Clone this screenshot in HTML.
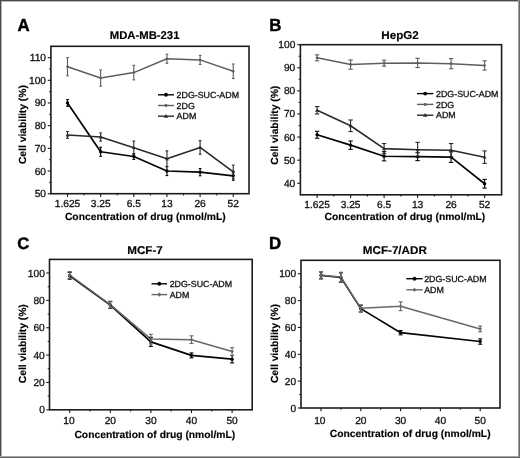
<!DOCTYPE html>
<html><head><meta charset="utf-8"><style>
html,body{margin:0;padding:0;background:#fff;}
body{width:520px;height:458px;overflow:hidden;position:relative;}
svg{position:absolute;left:0;top:0;filter:blur(0.3px);}
svg text{font-family:"Liberation Sans", sans-serif;text-rendering:geometricPrecision;}
svg text.r{stroke:#111;stroke-width:0.3px;}
svg text.b{stroke:#000;stroke-width:0.15px;}
svg text.L{stroke:#000;stroke-width:0.45px;}
</style></head><body>
<svg width="520" height="458" viewBox="0 0 520 458">
<rect x="0" y="0" width="520" height="458" fill="#fff"/>
<path d="M67.5 102.99 L100.65 151.75 L133.8 156.51 L166.95 171.02 L200.1 172.16 L233.25 175.79" fill="none" stroke="#050505" stroke-width="1.7" stroke-linejoin="round"/>
<path d="M67.5 66.71 L100.65 78.05 L133.8 72.61 L166.95 58.77 L200.1 59.91 L233.25 71.24" fill="none" stroke="#5e5e5e" stroke-width="1.5" stroke-linejoin="round"/>
<path d="M67.5 134.97 L100.65 137.01 L133.8 147.67 L166.95 158.78 L200.1 147.44 L233.25 171.93" fill="none" stroke="#2a2a2a" stroke-width="1.6" stroke-linejoin="round"/>
<line x1="67.5" y1="99.59" x2="67.5" y2="106.39" stroke="#050505" stroke-width="1.1" />
<line x1="66.15" y1="99.59" x2="68.85" y2="99.59" stroke="#050505" stroke-width="1.1" />
<line x1="66.15" y1="106.39" x2="68.85" y2="106.39" stroke="#050505" stroke-width="1.1" />
<circle cx="67.5" cy="102.99" r="1.7" fill="#050505"/>
<line x1="100.65" y1="147.21" x2="100.65" y2="156.28" stroke="#050505" stroke-width="1.1" />
<line x1="99.3" y1="147.21" x2="102" y2="147.21" stroke="#050505" stroke-width="1.1" />
<line x1="99.3" y1="156.28" x2="102" y2="156.28" stroke="#050505" stroke-width="1.1" />
<circle cx="100.65" cy="151.75" r="1.7" fill="#050505"/>
<line x1="133.8" y1="153.56" x2="133.8" y2="159.46" stroke="#050505" stroke-width="1.1" />
<line x1="132.45" y1="153.56" x2="135.15" y2="153.56" stroke="#050505" stroke-width="1.1" />
<line x1="132.45" y1="159.46" x2="135.15" y2="159.46" stroke="#050505" stroke-width="1.1" />
<circle cx="133.8" cy="156.51" r="1.7" fill="#050505"/>
<line x1="166.95" y1="166.49" x2="166.95" y2="175.56" stroke="#050505" stroke-width="1.1" />
<line x1="165.6" y1="166.49" x2="168.3" y2="166.49" stroke="#050505" stroke-width="1.1" />
<line x1="165.6" y1="175.56" x2="168.3" y2="175.56" stroke="#050505" stroke-width="1.1" />
<circle cx="166.95" cy="171.02" r="1.7" fill="#050505"/>
<line x1="200.1" y1="168.53" x2="200.1" y2="175.79" stroke="#050505" stroke-width="1.1" />
<line x1="198.75" y1="168.53" x2="201.45" y2="168.53" stroke="#050505" stroke-width="1.1" />
<line x1="198.75" y1="175.79" x2="201.45" y2="175.79" stroke="#050505" stroke-width="1.1" />
<circle cx="200.1" cy="172.16" r="1.7" fill="#050505"/>
<line x1="233.25" y1="171.25" x2="233.25" y2="180.32" stroke="#050505" stroke-width="1.1" />
<line x1="231.9" y1="171.25" x2="234.6" y2="171.25" stroke="#050505" stroke-width="1.1" />
<line x1="231.9" y1="180.32" x2="234.6" y2="180.32" stroke="#050505" stroke-width="1.1" />
<circle cx="233.25" cy="175.79" r="1.7" fill="#050505"/>
<line x1="67.5" y1="57.64" x2="67.5" y2="75.78" stroke="#5e5e5e" stroke-width="1.1" />
<line x1="66.15" y1="57.64" x2="68.85" y2="57.64" stroke="#5e5e5e" stroke-width="1.1" />
<line x1="66.15" y1="75.78" x2="68.85" y2="75.78" stroke="#5e5e5e" stroke-width="1.1" />
<circle cx="67.5" cy="66.71" r="1.3" fill="#5e5e5e"/>
<line x1="100.65" y1="69.88" x2="100.65" y2="86.21" stroke="#5e5e5e" stroke-width="1.1" />
<line x1="99.3" y1="69.88" x2="102" y2="69.88" stroke="#5e5e5e" stroke-width="1.1" />
<line x1="99.3" y1="86.21" x2="102" y2="86.21" stroke="#5e5e5e" stroke-width="1.1" />
<circle cx="100.65" cy="78.05" r="1.3" fill="#5e5e5e"/>
<line x1="133.8" y1="65.35" x2="133.8" y2="79.86" stroke="#5e5e5e" stroke-width="1.1" />
<line x1="132.45" y1="65.35" x2="135.15" y2="65.35" stroke="#5e5e5e" stroke-width="1.1" />
<line x1="132.45" y1="79.86" x2="135.15" y2="79.86" stroke="#5e5e5e" stroke-width="1.1" />
<circle cx="133.8" cy="72.61" r="1.3" fill="#5e5e5e"/>
<line x1="166.95" y1="54.24" x2="166.95" y2="63.31" stroke="#5e5e5e" stroke-width="1.1" />
<line x1="165.6" y1="54.24" x2="168.3" y2="54.24" stroke="#5e5e5e" stroke-width="1.1" />
<line x1="165.6" y1="63.31" x2="168.3" y2="63.31" stroke="#5e5e5e" stroke-width="1.1" />
<circle cx="166.95" cy="58.77" r="1.3" fill="#5e5e5e"/>
<line x1="200.1" y1="55.37" x2="200.1" y2="64.44" stroke="#5e5e5e" stroke-width="1.1" />
<line x1="198.75" y1="55.37" x2="201.45" y2="55.37" stroke="#5e5e5e" stroke-width="1.1" />
<line x1="198.75" y1="64.44" x2="201.45" y2="64.44" stroke="#5e5e5e" stroke-width="1.1" />
<circle cx="200.1" cy="59.91" r="1.3" fill="#5e5e5e"/>
<line x1="233.25" y1="63.99" x2="233.25" y2="78.5" stroke="#5e5e5e" stroke-width="1.1" />
<line x1="231.9" y1="63.99" x2="234.6" y2="63.99" stroke="#5e5e5e" stroke-width="1.1" />
<line x1="231.9" y1="78.5" x2="234.6" y2="78.5" stroke="#5e5e5e" stroke-width="1.1" />
<circle cx="233.25" cy="71.24" r="1.3" fill="#5e5e5e"/>
<line x1="67.5" y1="131.57" x2="67.5" y2="138.37" stroke="#2a2a2a" stroke-width="1.1" />
<line x1="66.15" y1="131.57" x2="68.85" y2="131.57" stroke="#2a2a2a" stroke-width="1.1" />
<line x1="66.15" y1="138.37" x2="68.85" y2="138.37" stroke="#2a2a2a" stroke-width="1.1" />
<path d="M67.5 133.07 L69.4 136.39 L65.6 136.39Z" fill="#2a2a2a"/>
<line x1="100.65" y1="132.93" x2="100.65" y2="141.09" stroke="#2a2a2a" stroke-width="1.1" />
<line x1="99.3" y1="132.93" x2="102" y2="132.93" stroke="#2a2a2a" stroke-width="1.1" />
<line x1="99.3" y1="141.09" x2="102" y2="141.09" stroke="#2a2a2a" stroke-width="1.1" />
<path d="M100.65 135.11 L102.55 138.43 L98.75 138.43Z" fill="#2a2a2a"/>
<line x1="133.8" y1="141.09" x2="133.8" y2="154.24" stroke="#2a2a2a" stroke-width="1.1" />
<line x1="132.45" y1="141.09" x2="135.15" y2="141.09" stroke="#2a2a2a" stroke-width="1.1" />
<line x1="132.45" y1="154.24" x2="135.15" y2="154.24" stroke="#2a2a2a" stroke-width="1.1" />
<path d="M133.8 145.77 L135.7 149.09 L131.9 149.09Z" fill="#2a2a2a"/>
<line x1="166.95" y1="150.84" x2="166.95" y2="166.71" stroke="#2a2a2a" stroke-width="1.1" />
<line x1="165.6" y1="150.84" x2="168.3" y2="150.84" stroke="#2a2a2a" stroke-width="1.1" />
<line x1="165.6" y1="166.71" x2="168.3" y2="166.71" stroke="#2a2a2a" stroke-width="1.1" />
<path d="M166.95 156.88 L168.85 160.2 L165.05 160.2Z" fill="#2a2a2a"/>
<line x1="200.1" y1="140.64" x2="200.1" y2="154.24" stroke="#2a2a2a" stroke-width="1.1" />
<line x1="198.75" y1="140.64" x2="201.45" y2="140.64" stroke="#2a2a2a" stroke-width="1.1" />
<line x1="198.75" y1="154.24" x2="201.45" y2="154.24" stroke="#2a2a2a" stroke-width="1.1" />
<path d="M200.1 145.54 L202 148.86 L198.2 148.86Z" fill="#2a2a2a"/>
<line x1="233.25" y1="165.13" x2="233.25" y2="178.73" stroke="#2a2a2a" stroke-width="1.1" />
<line x1="231.9" y1="165.13" x2="234.6" y2="165.13" stroke="#2a2a2a" stroke-width="1.1" />
<line x1="231.9" y1="178.73" x2="234.6" y2="178.73" stroke="#2a2a2a" stroke-width="1.1" />
<path d="M233.25 170.03 L235.15 173.36 L231.35 173.36Z" fill="#2a2a2a"/>
<rect x="50.9" y="46.3" width="198.1" height="147.4" fill="none" stroke="#1c1c1c" stroke-width="1.6"/>
<line x1="47.7" y1="193.7" x2="50.9" y2="193.7" stroke="#1c1c1c" stroke-width="1.1" />
<text x="46" y="197.2" font-size="10.2" font-weight="normal" text-anchor="end" fill="#111"  class="r">50</text>
<line x1="47.7" y1="171.02" x2="50.9" y2="171.02" stroke="#1c1c1c" stroke-width="1.1" />
<text x="46" y="174.52" font-size="10.2" font-weight="normal" text-anchor="end" fill="#111"  class="r">60</text>
<line x1="47.7" y1="148.35" x2="50.9" y2="148.35" stroke="#1c1c1c" stroke-width="1.1" />
<text x="46" y="151.85" font-size="10.2" font-weight="normal" text-anchor="end" fill="#111"  class="r">70</text>
<line x1="47.7" y1="125.67" x2="50.9" y2="125.67" stroke="#1c1c1c" stroke-width="1.1" />
<text x="46" y="129.17" font-size="10.2" font-weight="normal" text-anchor="end" fill="#111"  class="r">80</text>
<line x1="47.7" y1="102.99" x2="50.9" y2="102.99" stroke="#1c1c1c" stroke-width="1.1" />
<text x="46" y="106.49" font-size="10.2" font-weight="normal" text-anchor="end" fill="#111"  class="r">90</text>
<line x1="47.7" y1="80.32" x2="50.9" y2="80.32" stroke="#1c1c1c" stroke-width="1.1" />
<text x="46" y="83.82" font-size="10.2" font-weight="normal" text-anchor="end" fill="#111"  class="r">100</text>
<line x1="47.7" y1="57.64" x2="50.9" y2="57.64" stroke="#1c1c1c" stroke-width="1.1" />
<text x="46" y="61.14" font-size="10.2" font-weight="normal" text-anchor="end" fill="#111"  class="r">110</text>
<line x1="49.1" y1="182.36" x2="50.9" y2="182.36" stroke="#1c1c1c" stroke-width="1.0" />
<line x1="49.1" y1="159.68" x2="50.9" y2="159.68" stroke="#1c1c1c" stroke-width="1.0" />
<line x1="49.1" y1="137.01" x2="50.9" y2="137.01" stroke="#1c1c1c" stroke-width="1.0" />
<line x1="49.1" y1="114.33" x2="50.9" y2="114.33" stroke="#1c1c1c" stroke-width="1.0" />
<line x1="49.1" y1="91.65" x2="50.9" y2="91.65" stroke="#1c1c1c" stroke-width="1.0" />
<line x1="49.1" y1="68.98" x2="50.9" y2="68.98" stroke="#1c1c1c" stroke-width="1.0" />
<line x1="67.5" y1="193.7" x2="67.5" y2="196.9" stroke="#1c1c1c" stroke-width="1.1" />
<text x="67.5" y="207.3" font-size="10.2" font-weight="normal" text-anchor="middle" fill="#111"  class="r">1.625</text>
<line x1="100.65" y1="193.7" x2="100.65" y2="196.9" stroke="#1c1c1c" stroke-width="1.1" />
<text x="100.65" y="207.3" font-size="10.2" font-weight="normal" text-anchor="middle" fill="#111"  class="r">3.25</text>
<line x1="133.8" y1="193.7" x2="133.8" y2="196.9" stroke="#1c1c1c" stroke-width="1.1" />
<text x="133.8" y="207.3" font-size="10.2" font-weight="normal" text-anchor="middle" fill="#111"  class="r">6.5</text>
<line x1="166.95" y1="193.7" x2="166.95" y2="196.9" stroke="#1c1c1c" stroke-width="1.1" />
<text x="166.95" y="207.3" font-size="10.2" font-weight="normal" text-anchor="middle" fill="#111"  class="r">13</text>
<line x1="200.1" y1="193.7" x2="200.1" y2="196.9" stroke="#1c1c1c" stroke-width="1.1" />
<text x="200.1" y="207.3" font-size="10.2" font-weight="normal" text-anchor="middle" fill="#111"  class="r">26</text>
<line x1="233.25" y1="193.7" x2="233.25" y2="196.9" stroke="#1c1c1c" stroke-width="1.1" />
<text x="233.25" y="207.3" font-size="10.2" font-weight="normal" text-anchor="middle" fill="#111"  class="r">52</text>
<line x1="84.08" y1="193.7" x2="84.08" y2="195.5" stroke="#1c1c1c" stroke-width="1.0" />
<line x1="117.22" y1="193.7" x2="117.22" y2="195.5" stroke="#1c1c1c" stroke-width="1.0" />
<line x1="150.38" y1="193.7" x2="150.38" y2="195.5" stroke="#1c1c1c" stroke-width="1.0" />
<line x1="183.52" y1="193.7" x2="183.52" y2="195.5" stroke="#1c1c1c" stroke-width="1.0" />
<line x1="216.67" y1="193.7" x2="216.67" y2="195.5" stroke="#1c1c1c" stroke-width="1.0" />
<text x="144.6" y="39.4" font-size="11.3" font-weight="bold" text-anchor="middle" fill="#000"  class="b">MDA-MB-231</text>
<text transform="translate(17.5 31) scale(0.96 1)" font-size="17.5" font-weight="bold" text-anchor="start" fill="#000" class="L">A</text>
<text x="145.3" y="219.6" font-size="10.3" font-weight="bold" text-anchor="middle" fill="#000"  class="b">Concentration of drug (nmol/mL)</text>
<text x="26" y="124.6" font-size="10.3" font-weight="bold" text-anchor="middle" fill="#000" transform="rotate(-90 26 124.6)" class="b">Cell viability (%)</text>
<line x1="158" y1="94.8" x2="174" y2="94.8" stroke="#050505" stroke-width="1.4" />
<circle cx="166" cy="94.8" r="1.95" fill="#050505"/>
<text x="176.6" y="97.9" font-size="8.85" font-weight="normal" text-anchor="start" fill="#111"  class="r">2DG-SUC-ADM</text>
<line x1="158" y1="105.5" x2="174" y2="105.5" stroke="#5e5e5e" stroke-width="1.4" />
<circle cx="166" cy="105.5" r="1.49" fill="#5e5e5e"/>
<text x="176.6" y="108.6" font-size="8.85" font-weight="normal" text-anchor="start" fill="#111"  class="r">2DG</text>
<line x1="158" y1="116.2" x2="174" y2="116.2" stroke="#2a2a2a" stroke-width="1.4" />
<path d="M166 114.01 L168.19 117.84 L163.81 117.84Z" fill="#2a2a2a"/>
<text x="176.6" y="119.3" font-size="8.85" font-weight="normal" text-anchor="start" fill="#111"  class="r">ADM</text>
<path d="M317.1 134.76 L350.6 145.15 L384.1 156.24 L417.6 156.7 L451.1 157.16 L484.6 183.72" fill="none" stroke="#050505" stroke-width="1.7" stroke-linejoin="round"/>
<path d="M317.1 57.86 L350.6 64.56 L384.1 63.17 L417.6 62.94 L451.1 63.64 L484.6 65.48" fill="none" stroke="#5e5e5e" stroke-width="1.5" stroke-linejoin="round"/>
<path d="M317.1 110.28 L350.6 125.75 L384.1 148.62 L417.6 149.77 L451.1 150.23 L484.6 157.16" fill="none" stroke="#2a2a2a" stroke-width="1.6" stroke-linejoin="round"/>
<line x1="317.1" y1="131.3" x2="317.1" y2="138.22" stroke="#050505" stroke-width="1.1" />
<line x1="314.9" y1="131.3" x2="319.3" y2="131.3" stroke="#050505" stroke-width="1.1" />
<line x1="314.9" y1="138.22" x2="319.3" y2="138.22" stroke="#050505" stroke-width="1.1" />
<circle cx="317.1" cy="134.76" r="1.7" fill="#050505"/>
<line x1="350.6" y1="140.99" x2="350.6" y2="149.31" stroke="#050505" stroke-width="1.1" />
<line x1="348.4" y1="140.99" x2="352.8" y2="140.99" stroke="#050505" stroke-width="1.1" />
<line x1="348.4" y1="149.31" x2="352.8" y2="149.31" stroke="#050505" stroke-width="1.1" />
<circle cx="350.6" cy="145.15" r="1.7" fill="#050505"/>
<line x1="384.1" y1="151.62" x2="384.1" y2="160.85" stroke="#050505" stroke-width="1.1" />
<line x1="381.9" y1="151.62" x2="386.3" y2="151.62" stroke="#050505" stroke-width="1.1" />
<line x1="381.9" y1="160.85" x2="386.3" y2="160.85" stroke="#050505" stroke-width="1.1" />
<circle cx="384.1" cy="156.24" r="1.7" fill="#050505"/>
<line x1="417.6" y1="152.77" x2="417.6" y2="160.62" stroke="#050505" stroke-width="1.1" />
<line x1="415.4" y1="152.77" x2="419.8" y2="152.77" stroke="#050505" stroke-width="1.1" />
<line x1="415.4" y1="160.62" x2="419.8" y2="160.62" stroke="#050505" stroke-width="1.1" />
<circle cx="417.6" cy="156.7" r="1.7" fill="#050505"/>
<line x1="451.1" y1="151.85" x2="451.1" y2="162.47" stroke="#050505" stroke-width="1.1" />
<line x1="448.9" y1="151.85" x2="453.3" y2="151.85" stroke="#050505" stroke-width="1.1" />
<line x1="448.9" y1="162.47" x2="453.3" y2="162.47" stroke="#050505" stroke-width="1.1" />
<circle cx="451.1" cy="157.16" r="1.7" fill="#050505"/>
<line x1="484.6" y1="179.33" x2="484.6" y2="188.1" stroke="#050505" stroke-width="1.1" />
<line x1="482.4" y1="179.33" x2="486.8" y2="179.33" stroke="#050505" stroke-width="1.1" />
<line x1="482.4" y1="188.1" x2="486.8" y2="188.1" stroke="#050505" stroke-width="1.1" />
<circle cx="484.6" cy="183.72" r="1.7" fill="#050505"/>
<line x1="317.1" y1="54.86" x2="317.1" y2="60.86" stroke="#5e5e5e" stroke-width="1.1" />
<line x1="314.9" y1="54.86" x2="319.3" y2="54.86" stroke="#5e5e5e" stroke-width="1.1" />
<line x1="314.9" y1="60.86" x2="319.3" y2="60.86" stroke="#5e5e5e" stroke-width="1.1" />
<circle cx="317.1" cy="57.86" r="1.3" fill="#5e5e5e"/>
<line x1="350.6" y1="59.94" x2="350.6" y2="69.18" stroke="#5e5e5e" stroke-width="1.1" />
<line x1="348.4" y1="59.94" x2="352.8" y2="59.94" stroke="#5e5e5e" stroke-width="1.1" />
<line x1="348.4" y1="69.18" x2="352.8" y2="69.18" stroke="#5e5e5e" stroke-width="1.1" />
<circle cx="350.6" cy="64.56" r="1.3" fill="#5e5e5e"/>
<line x1="384.1" y1="60.17" x2="384.1" y2="66.18" stroke="#5e5e5e" stroke-width="1.1" />
<line x1="381.9" y1="60.17" x2="386.3" y2="60.17" stroke="#5e5e5e" stroke-width="1.1" />
<line x1="381.9" y1="66.18" x2="386.3" y2="66.18" stroke="#5e5e5e" stroke-width="1.1" />
<circle cx="384.1" cy="63.17" r="1.3" fill="#5e5e5e"/>
<line x1="417.6" y1="58.32" x2="417.6" y2="67.56" stroke="#5e5e5e" stroke-width="1.1" />
<line x1="415.4" y1="58.32" x2="419.8" y2="58.32" stroke="#5e5e5e" stroke-width="1.1" />
<line x1="415.4" y1="67.56" x2="419.8" y2="67.56" stroke="#5e5e5e" stroke-width="1.1" />
<circle cx="417.6" cy="62.94" r="1.3" fill="#5e5e5e"/>
<line x1="451.1" y1="58.56" x2="451.1" y2="68.72" stroke="#5e5e5e" stroke-width="1.1" />
<line x1="448.9" y1="58.56" x2="453.3" y2="58.56" stroke="#5e5e5e" stroke-width="1.1" />
<line x1="448.9" y1="68.72" x2="453.3" y2="68.72" stroke="#5e5e5e" stroke-width="1.1" />
<circle cx="451.1" cy="63.64" r="1.3" fill="#5e5e5e"/>
<line x1="484.6" y1="60.86" x2="484.6" y2="70.1" stroke="#5e5e5e" stroke-width="1.1" />
<line x1="482.4" y1="60.86" x2="486.8" y2="60.86" stroke="#5e5e5e" stroke-width="1.1" />
<line x1="482.4" y1="70.1" x2="486.8" y2="70.1" stroke="#5e5e5e" stroke-width="1.1" />
<circle cx="484.6" cy="65.48" r="1.3" fill="#5e5e5e"/>
<line x1="317.1" y1="106.59" x2="317.1" y2="113.98" stroke="#2a2a2a" stroke-width="1.1" />
<line x1="314.9" y1="106.59" x2="319.3" y2="106.59" stroke="#2a2a2a" stroke-width="1.1" />
<line x1="314.9" y1="113.98" x2="319.3" y2="113.98" stroke="#2a2a2a" stroke-width="1.1" />
<path d="M317.1 108.38 L319 111.71 L315.2 111.71Z" fill="#2a2a2a"/>
<line x1="350.6" y1="119.98" x2="350.6" y2="131.53" stroke="#2a2a2a" stroke-width="1.1" />
<line x1="348.4" y1="119.98" x2="352.8" y2="119.98" stroke="#2a2a2a" stroke-width="1.1" />
<line x1="348.4" y1="131.53" x2="352.8" y2="131.53" stroke="#2a2a2a" stroke-width="1.1" />
<path d="M350.6 123.85 L352.5 127.18 L348.7 127.18Z" fill="#2a2a2a"/>
<line x1="384.1" y1="143.54" x2="384.1" y2="153.7" stroke="#2a2a2a" stroke-width="1.1" />
<line x1="381.9" y1="143.54" x2="386.3" y2="143.54" stroke="#2a2a2a" stroke-width="1.1" />
<line x1="381.9" y1="153.7" x2="386.3" y2="153.7" stroke="#2a2a2a" stroke-width="1.1" />
<path d="M384.1 146.72 L386 150.04 L382.2 150.04Z" fill="#2a2a2a"/>
<line x1="417.6" y1="142.38" x2="417.6" y2="157.16" stroke="#2a2a2a" stroke-width="1.1" />
<line x1="415.4" y1="142.38" x2="419.8" y2="142.38" stroke="#2a2a2a" stroke-width="1.1" />
<line x1="415.4" y1="157.16" x2="419.8" y2="157.16" stroke="#2a2a2a" stroke-width="1.1" />
<path d="M417.6 147.87 L419.5 151.2 L415.7 151.2Z" fill="#2a2a2a"/>
<line x1="451.1" y1="143.54" x2="451.1" y2="156.93" stroke="#2a2a2a" stroke-width="1.1" />
<line x1="448.9" y1="143.54" x2="453.3" y2="143.54" stroke="#2a2a2a" stroke-width="1.1" />
<line x1="448.9" y1="156.93" x2="453.3" y2="156.93" stroke="#2a2a2a" stroke-width="1.1" />
<path d="M451.1 148.33 L453 151.66 L449.2 151.66Z" fill="#2a2a2a"/>
<line x1="484.6" y1="150.92" x2="484.6" y2="163.39" stroke="#2a2a2a" stroke-width="1.1" />
<line x1="482.4" y1="150.92" x2="486.8" y2="150.92" stroke="#2a2a2a" stroke-width="1.1" />
<line x1="482.4" y1="163.39" x2="486.8" y2="163.39" stroke="#2a2a2a" stroke-width="1.1" />
<path d="M484.6 155.26 L486.5 158.58 L482.7 158.58Z" fill="#2a2a2a"/>
<rect x="300.4" y="44.7" width="201.2" height="150.1" fill="none" stroke="#1c1c1c" stroke-width="1.6"/>
<line x1="297.2" y1="183.25" x2="300.4" y2="183.25" stroke="#1c1c1c" stroke-width="1.1" />
<text x="295.3" y="186.75" font-size="10.2" font-weight="normal" text-anchor="end" fill="#111"  class="r">40</text>
<line x1="297.2" y1="160.16" x2="300.4" y2="160.16" stroke="#1c1c1c" stroke-width="1.1" />
<text x="295.3" y="163.66" font-size="10.2" font-weight="normal" text-anchor="end" fill="#111"  class="r">50</text>
<line x1="297.2" y1="137.07" x2="300.4" y2="137.07" stroke="#1c1c1c" stroke-width="1.1" />
<text x="295.3" y="140.57" font-size="10.2" font-weight="normal" text-anchor="end" fill="#111"  class="r">60</text>
<line x1="297.2" y1="113.98" x2="300.4" y2="113.98" stroke="#1c1c1c" stroke-width="1.1" />
<text x="295.3" y="117.48" font-size="10.2" font-weight="normal" text-anchor="end" fill="#111"  class="r">70</text>
<line x1="297.2" y1="90.88" x2="300.4" y2="90.88" stroke="#1c1c1c" stroke-width="1.1" />
<text x="295.3" y="94.38" font-size="10.2" font-weight="normal" text-anchor="end" fill="#111"  class="r">80</text>
<line x1="297.2" y1="67.79" x2="300.4" y2="67.79" stroke="#1c1c1c" stroke-width="1.1" />
<text x="295.3" y="71.29" font-size="10.2" font-weight="normal" text-anchor="end" fill="#111"  class="r">90</text>
<line x1="297.2" y1="44.7" x2="300.4" y2="44.7" stroke="#1c1c1c" stroke-width="1.1" />
<text x="295.3" y="48.2" font-size="10.2" font-weight="normal" text-anchor="end" fill="#111"  class="r">100</text>
<line x1="298.6" y1="171.71" x2="300.4" y2="171.71" stroke="#1c1c1c" stroke-width="1.0" />
<line x1="298.6" y1="148.62" x2="300.4" y2="148.62" stroke="#1c1c1c" stroke-width="1.0" />
<line x1="298.6" y1="125.52" x2="300.4" y2="125.52" stroke="#1c1c1c" stroke-width="1.0" />
<line x1="298.6" y1="102.43" x2="300.4" y2="102.43" stroke="#1c1c1c" stroke-width="1.0" />
<line x1="298.6" y1="79.34" x2="300.4" y2="79.34" stroke="#1c1c1c" stroke-width="1.0" />
<line x1="298.6" y1="56.25" x2="300.4" y2="56.25" stroke="#1c1c1c" stroke-width="1.0" />
<line x1="317.1" y1="194.8" x2="317.1" y2="198" stroke="#1c1c1c" stroke-width="1.1" />
<text x="317.1" y="207.8" font-size="10.2" font-weight="normal" text-anchor="middle" fill="#111"  class="r">1.625</text>
<line x1="350.6" y1="194.8" x2="350.6" y2="198" stroke="#1c1c1c" stroke-width="1.1" />
<text x="350.6" y="207.8" font-size="10.2" font-weight="normal" text-anchor="middle" fill="#111"  class="r">3.25</text>
<line x1="384.1" y1="194.8" x2="384.1" y2="198" stroke="#1c1c1c" stroke-width="1.1" />
<text x="384.1" y="207.8" font-size="10.2" font-weight="normal" text-anchor="middle" fill="#111"  class="r">6.5</text>
<line x1="417.6" y1="194.8" x2="417.6" y2="198" stroke="#1c1c1c" stroke-width="1.1" />
<text x="417.6" y="207.8" font-size="10.2" font-weight="normal" text-anchor="middle" fill="#111"  class="r">13</text>
<line x1="451.1" y1="194.8" x2="451.1" y2="198" stroke="#1c1c1c" stroke-width="1.1" />
<text x="451.1" y="207.8" font-size="10.2" font-weight="normal" text-anchor="middle" fill="#111"  class="r">26</text>
<line x1="484.6" y1="194.8" x2="484.6" y2="198" stroke="#1c1c1c" stroke-width="1.1" />
<text x="484.6" y="207.8" font-size="10.2" font-weight="normal" text-anchor="middle" fill="#111"  class="r">52</text>
<line x1="333.85" y1="194.8" x2="333.85" y2="196.6" stroke="#1c1c1c" stroke-width="1.0" />
<line x1="367.35" y1="194.8" x2="367.35" y2="196.6" stroke="#1c1c1c" stroke-width="1.0" />
<line x1="400.85" y1="194.8" x2="400.85" y2="196.6" stroke="#1c1c1c" stroke-width="1.0" />
<line x1="434.35" y1="194.8" x2="434.35" y2="196.6" stroke="#1c1c1c" stroke-width="1.0" />
<line x1="467.85" y1="194.8" x2="467.85" y2="196.6" stroke="#1c1c1c" stroke-width="1.0" />
<text transform="translate(400 39.4) scale(1.03 1)" font-size="11.3" font-weight="bold" text-anchor="middle" fill="#000"  class="b">HepG2</text>
<text transform="translate(269.2 30.9) scale(0.96 1)" font-size="17.5" font-weight="bold" text-anchor="start" fill="#000" class="L">B</text>
<text x="404.9" y="219.6" font-size="10.3" font-weight="bold" text-anchor="middle" fill="#000"  class="b">Concentration of drug (nmol/mL)</text>
<text x="278.4" y="125.2" font-size="10.3" font-weight="bold" text-anchor="middle" fill="#000" transform="rotate(-90 278.4 125.2)" class="b">Cell viability (%)</text>
<line x1="417" y1="93.6" x2="433.4" y2="93.6" stroke="#050505" stroke-width="1.4" />
<circle cx="425.2" cy="93.6" r="1.95" fill="#050505"/>
<text x="436" y="96.7" font-size="8.85" font-weight="normal" text-anchor="start" fill="#111"  class="r">2DG-SUC-ADM</text>
<line x1="417" y1="104.4" x2="433.4" y2="104.4" stroke="#5e5e5e" stroke-width="1.4" />
<circle cx="425.2" cy="104.4" r="1.49" fill="#5e5e5e"/>
<text x="436" y="107.5" font-size="8.85" font-weight="normal" text-anchor="start" fill="#111"  class="r">2DG</text>
<line x1="417" y1="115.2" x2="433.4" y2="115.2" stroke="#2a2a2a" stroke-width="1.4" />
<path d="M425.2 113.01 L427.38 116.84 L423.01 116.84Z" fill="#2a2a2a"/>
<text x="436" y="118.3" font-size="8.85" font-weight="normal" text-anchor="start" fill="#111"  class="r">ADM</text>
<path d="M69.7 275.81 L110.3 305.07 L150.9 341.85 L191.5 355.38 L232.1 359.21" fill="none" stroke="#050505" stroke-width="1.7" stroke-linejoin="round"/>
<path d="M69.7 274.99 L110.3 304.66 L150.9 339.11 L191.5 339.66 L232.1 351.55" fill="none" stroke="#686868" stroke-width="1.5" stroke-linejoin="round"/>
<line x1="69.7" y1="272.39" x2="69.7" y2="279.23" stroke="#050505" stroke-width="1.1" />
<line x1="67.7" y1="272.39" x2="71.7" y2="272.39" stroke="#050505" stroke-width="1.1" />
<line x1="67.7" y1="279.23" x2="71.7" y2="279.23" stroke="#050505" stroke-width="1.1" />
<circle cx="69.7" cy="275.81" r="1.7" fill="#050505"/>
<line x1="110.3" y1="301.65" x2="110.3" y2="308.49" stroke="#050505" stroke-width="1.1" />
<line x1="108.3" y1="301.65" x2="112.3" y2="301.65" stroke="#050505" stroke-width="1.1" />
<line x1="108.3" y1="308.49" x2="112.3" y2="308.49" stroke="#050505" stroke-width="1.1" />
<circle cx="110.3" cy="305.07" r="1.7" fill="#050505"/>
<line x1="150.9" y1="337.33" x2="150.9" y2="346.36" stroke="#050505" stroke-width="1.1" />
<line x1="148.9" y1="337.33" x2="152.9" y2="337.33" stroke="#050505" stroke-width="1.1" />
<line x1="148.9" y1="346.36" x2="152.9" y2="346.36" stroke="#050505" stroke-width="1.1" />
<circle cx="150.9" cy="341.85" r="1.7" fill="#050505"/>
<line x1="191.5" y1="352.92" x2="191.5" y2="357.84" stroke="#050505" stroke-width="1.1" />
<line x1="189.5" y1="352.92" x2="193.5" y2="352.92" stroke="#050505" stroke-width="1.1" />
<line x1="189.5" y1="357.84" x2="193.5" y2="357.84" stroke="#050505" stroke-width="1.1" />
<circle cx="191.5" cy="355.38" r="1.7" fill="#050505"/>
<line x1="232.1" y1="355.52" x2="232.1" y2="362.9" stroke="#050505" stroke-width="1.1" />
<line x1="230.1" y1="355.52" x2="234.1" y2="355.52" stroke="#050505" stroke-width="1.1" />
<line x1="230.1" y1="362.9" x2="234.1" y2="362.9" stroke="#050505" stroke-width="1.1" />
<circle cx="232.1" cy="359.21" r="1.7" fill="#050505"/>
<line x1="69.7" y1="271.57" x2="69.7" y2="278.41" stroke="#686868" stroke-width="1.1" />
<line x1="67.7" y1="271.57" x2="71.7" y2="271.57" stroke="#686868" stroke-width="1.1" />
<line x1="67.7" y1="278.41" x2="71.7" y2="278.41" stroke="#686868" stroke-width="1.1" />
<path d="M69.7 273.19 L71.5 274.99 L69.7 276.79 L67.9 274.99Z" fill="#686868"/>
<line x1="110.3" y1="301.24" x2="110.3" y2="308.07" stroke="#686868" stroke-width="1.1" />
<line x1="108.3" y1="301.24" x2="112.3" y2="301.24" stroke="#686868" stroke-width="1.1" />
<line x1="108.3" y1="308.07" x2="112.3" y2="308.07" stroke="#686868" stroke-width="1.1" />
<path d="M110.3 302.86 L112.1 304.66 L110.3 306.46 L108.5 304.66Z" fill="#686868"/>
<line x1="150.9" y1="334.33" x2="150.9" y2="343.9" stroke="#686868" stroke-width="1.1" />
<line x1="148.9" y1="334.33" x2="152.9" y2="334.33" stroke="#686868" stroke-width="1.1" />
<line x1="148.9" y1="343.9" x2="152.9" y2="343.9" stroke="#686868" stroke-width="1.1" />
<path d="M150.9 337.31 L152.7 339.11 L150.9 340.91 L149.1 339.11Z" fill="#686868"/>
<line x1="191.5" y1="335.83" x2="191.5" y2="343.49" stroke="#686868" stroke-width="1.1" />
<line x1="189.5" y1="335.83" x2="193.5" y2="335.83" stroke="#686868" stroke-width="1.1" />
<line x1="189.5" y1="343.49" x2="193.5" y2="343.49" stroke="#686868" stroke-width="1.1" />
<path d="M191.5 337.86 L193.3 339.66 L191.5 341.46 L189.7 339.66Z" fill="#686868"/>
<line x1="232.1" y1="347.73" x2="232.1" y2="355.38" stroke="#686868" stroke-width="1.1" />
<line x1="230.1" y1="347.73" x2="234.1" y2="347.73" stroke="#686868" stroke-width="1.1" />
<line x1="230.1" y1="355.38" x2="234.1" y2="355.38" stroke="#686868" stroke-width="1.1" />
<path d="M232.1 349.75 L233.9 351.55 L232.1 353.35 L230.3 351.55Z" fill="#686868"/>
<rect x="49.5" y="259.4" width="202.7" height="150.4" fill="none" stroke="#1c1c1c" stroke-width="1.6"/>
<line x1="46.3" y1="409.8" x2="49.5" y2="409.8" stroke="#1c1c1c" stroke-width="1.1" />
<text x="44.8" y="413.3" font-size="10.2" font-weight="normal" text-anchor="end" fill="#111"  class="r">0</text>
<line x1="46.3" y1="382.45" x2="49.5" y2="382.45" stroke="#1c1c1c" stroke-width="1.1" />
<text x="44.8" y="385.95" font-size="10.2" font-weight="normal" text-anchor="end" fill="#111"  class="r">20</text>
<line x1="46.3" y1="355.11" x2="49.5" y2="355.11" stroke="#1c1c1c" stroke-width="1.1" />
<text x="44.8" y="358.61" font-size="10.2" font-weight="normal" text-anchor="end" fill="#111"  class="r">40</text>
<line x1="46.3" y1="327.76" x2="49.5" y2="327.76" stroke="#1c1c1c" stroke-width="1.1" />
<text x="44.8" y="331.26" font-size="10.2" font-weight="normal" text-anchor="end" fill="#111"  class="r">60</text>
<line x1="46.3" y1="300.42" x2="49.5" y2="300.42" stroke="#1c1c1c" stroke-width="1.1" />
<text x="44.8" y="303.92" font-size="10.2" font-weight="normal" text-anchor="end" fill="#111"  class="r">80</text>
<line x1="46.3" y1="273.07" x2="49.5" y2="273.07" stroke="#1c1c1c" stroke-width="1.1" />
<text x="44.8" y="276.57" font-size="10.2" font-weight="normal" text-anchor="end" fill="#111"  class="r">100</text>
<line x1="47.7" y1="396.13" x2="49.5" y2="396.13" stroke="#1c1c1c" stroke-width="1.0" />
<line x1="47.7" y1="368.78" x2="49.5" y2="368.78" stroke="#1c1c1c" stroke-width="1.0" />
<line x1="47.7" y1="341.44" x2="49.5" y2="341.44" stroke="#1c1c1c" stroke-width="1.0" />
<line x1="47.7" y1="314.09" x2="49.5" y2="314.09" stroke="#1c1c1c" stroke-width="1.0" />
<line x1="47.7" y1="286.75" x2="49.5" y2="286.75" stroke="#1c1c1c" stroke-width="1.0" />
<line x1="69.7" y1="409.8" x2="69.7" y2="413" stroke="#1c1c1c" stroke-width="1.1" />
<text x="68.9" y="424" font-size="10.2" font-weight="normal" text-anchor="middle" fill="#111"  class="r">10</text>
<line x1="110.3" y1="409.8" x2="110.3" y2="413" stroke="#1c1c1c" stroke-width="1.1" />
<text x="110.3" y="424" font-size="10.2" font-weight="normal" text-anchor="middle" fill="#111"  class="r">20</text>
<line x1="150.9" y1="409.8" x2="150.9" y2="413" stroke="#1c1c1c" stroke-width="1.1" />
<text x="150.9" y="424" font-size="10.2" font-weight="normal" text-anchor="middle" fill="#111"  class="r">30</text>
<line x1="191.5" y1="409.8" x2="191.5" y2="413" stroke="#1c1c1c" stroke-width="1.1" />
<text x="191.5" y="424" font-size="10.2" font-weight="normal" text-anchor="middle" fill="#111"  class="r">40</text>
<line x1="232.1" y1="409.8" x2="232.1" y2="413" stroke="#1c1c1c" stroke-width="1.1" />
<text x="232.1" y="424" font-size="10.2" font-weight="normal" text-anchor="middle" fill="#111"  class="r">50</text>
<line x1="90" y1="409.8" x2="90" y2="411.6" stroke="#1c1c1c" stroke-width="1.0" />
<line x1="130.6" y1="409.8" x2="130.6" y2="411.6" stroke="#1c1c1c" stroke-width="1.0" />
<line x1="171.2" y1="409.8" x2="171.2" y2="411.6" stroke="#1c1c1c" stroke-width="1.0" />
<line x1="211.8" y1="409.8" x2="211.8" y2="411.6" stroke="#1c1c1c" stroke-width="1.0" />
<text transform="translate(145 253.5) scale(1.03 1)" font-size="11.3" font-weight="bold" text-anchor="middle" fill="#000"  class="b">MCF-7</text>
<text x="17.2" y="248.8" font-size="16.6" font-weight="bold" text-anchor="start" fill="#000" class="L">C</text>
<text x="154.8" y="437.5" font-size="10.3" font-weight="bold" text-anchor="middle" fill="#000"  class="b">Concentration of drug (nmol/mL)</text>
<text x="25.7" y="343.7" font-size="10.3" font-weight="bold" text-anchor="middle" fill="#000" transform="rotate(-90 25.7 343.7)" class="b">Cell viability (%)</text>
<line x1="151.5" y1="283.8" x2="167.1" y2="283.8" stroke="#050505" stroke-width="1.4" />
<circle cx="159.3" cy="283.8" r="1.95" fill="#050505"/>
<text x="169.7" y="286.9" font-size="8.85" font-weight="normal" text-anchor="start" fill="#111"  class="r">2DG-SUC-ADM</text>
<line x1="151.5" y1="294.6" x2="167.1" y2="294.6" stroke="#686868" stroke-width="1.4" />
<path d="M159.3 292.53 L161.37 294.6 L159.3 296.67 L157.23 294.6Z" fill="#686868"/>
<text x="169.7" y="297.7" font-size="8.85" font-weight="normal" text-anchor="start" fill="#111"  class="r">ADM</text>
<path d="M321 275.34 L340.9 277.49 L360.8 308.64 L400.6 332.67 L480.2 341.53" fill="none" stroke="#050505" stroke-width="1.7" stroke-linejoin="round"/>
<path d="M321 275.34 L340.9 277.08 L360.8 308.37 L400.6 306.22 L480.2 328.91" fill="none" stroke="#686868" stroke-width="1.5" stroke-linejoin="round"/>
<line x1="321" y1="271.98" x2="321" y2="278.7" stroke="#050505" stroke-width="1.1" />
<line x1="319" y1="271.98" x2="323" y2="271.98" stroke="#050505" stroke-width="1.1" />
<line x1="319" y1="278.7" x2="323" y2="278.7" stroke="#050505" stroke-width="1.1" />
<circle cx="321" cy="275.34" r="1.7" fill="#050505"/>
<line x1="340.9" y1="272.79" x2="340.9" y2="282.19" stroke="#050505" stroke-width="1.1" />
<line x1="338.9" y1="272.79" x2="342.9" y2="272.79" stroke="#050505" stroke-width="1.1" />
<line x1="338.9" y1="282.19" x2="342.9" y2="282.19" stroke="#050505" stroke-width="1.1" />
<circle cx="340.9" cy="277.49" r="1.7" fill="#050505"/>
<line x1="360.8" y1="305.28" x2="360.8" y2="312" stroke="#050505" stroke-width="1.1" />
<line x1="358.8" y1="305.28" x2="362.8" y2="305.28" stroke="#050505" stroke-width="1.1" />
<line x1="358.8" y1="312" x2="362.8" y2="312" stroke="#050505" stroke-width="1.1" />
<circle cx="360.8" cy="308.64" r="1.7" fill="#050505"/>
<line x1="400.6" y1="330.52" x2="400.6" y2="334.82" stroke="#050505" stroke-width="1.1" />
<line x1="398.6" y1="330.52" x2="402.6" y2="330.52" stroke="#050505" stroke-width="1.1" />
<line x1="398.6" y1="334.82" x2="402.6" y2="334.82" stroke="#050505" stroke-width="1.1" />
<circle cx="400.6" cy="332.67" r="1.7" fill="#050505"/>
<line x1="480.2" y1="338.85" x2="480.2" y2="344.22" stroke="#050505" stroke-width="1.1" />
<line x1="478.2" y1="338.85" x2="482.2" y2="338.85" stroke="#050505" stroke-width="1.1" />
<line x1="478.2" y1="344.22" x2="482.2" y2="344.22" stroke="#050505" stroke-width="1.1" />
<circle cx="480.2" cy="341.53" r="1.7" fill="#050505"/>
<line x1="321" y1="271.58" x2="321" y2="279.1" stroke="#686868" stroke-width="1.1" />
<line x1="319" y1="271.58" x2="323" y2="271.58" stroke="#686868" stroke-width="1.1" />
<line x1="319" y1="279.1" x2="323" y2="279.1" stroke="#686868" stroke-width="1.1" />
<path d="M321 273.54 L322.8 275.34 L321 277.14 L319.2 275.34Z" fill="#686868"/>
<line x1="340.9" y1="272.25" x2="340.9" y2="281.92" stroke="#686868" stroke-width="1.1" />
<line x1="338.9" y1="272.25" x2="342.9" y2="272.25" stroke="#686868" stroke-width="1.1" />
<line x1="338.9" y1="281.92" x2="342.9" y2="281.92" stroke="#686868" stroke-width="1.1" />
<path d="M340.9 275.28 L342.7 277.08 L340.9 278.88 L339.1 277.08Z" fill="#686868"/>
<line x1="360.8" y1="304.88" x2="360.8" y2="311.86" stroke="#686868" stroke-width="1.1" />
<line x1="358.8" y1="304.88" x2="362.8" y2="304.88" stroke="#686868" stroke-width="1.1" />
<line x1="358.8" y1="311.86" x2="362.8" y2="311.86" stroke="#686868" stroke-width="1.1" />
<path d="M360.8 306.57 L362.6 308.37 L360.8 310.17 L359 308.37Z" fill="#686868"/>
<line x1="400.6" y1="301.79" x2="400.6" y2="310.65" stroke="#686868" stroke-width="1.1" />
<line x1="398.6" y1="301.79" x2="402.6" y2="301.79" stroke="#686868" stroke-width="1.1" />
<line x1="398.6" y1="310.65" x2="402.6" y2="310.65" stroke="#686868" stroke-width="1.1" />
<path d="M400.6 304.42 L402.4 306.22 L400.6 308.02 L398.8 306.22Z" fill="#686868"/>
<line x1="480.2" y1="326.09" x2="480.2" y2="331.73" stroke="#686868" stroke-width="1.1" />
<line x1="478.2" y1="326.09" x2="482.2" y2="326.09" stroke="#686868" stroke-width="1.1" />
<line x1="478.2" y1="331.73" x2="482.2" y2="331.73" stroke="#686868" stroke-width="1.1" />
<path d="M480.2 327.11 L482 328.91 L480.2 330.71 L478.4 328.91Z" fill="#686868"/>
<rect x="301" y="260.3" width="199" height="147.7" fill="none" stroke="#1c1c1c" stroke-width="1.6"/>
<line x1="297.8" y1="408" x2="301" y2="408" stroke="#1c1c1c" stroke-width="1.1" />
<text x="296.2" y="411.5" font-size="10.2" font-weight="normal" text-anchor="end" fill="#111"  class="r">0</text>
<line x1="297.8" y1="381.15" x2="301" y2="381.15" stroke="#1c1c1c" stroke-width="1.1" />
<text x="296.2" y="384.65" font-size="10.2" font-weight="normal" text-anchor="end" fill="#111"  class="r">20</text>
<line x1="297.8" y1="354.29" x2="301" y2="354.29" stroke="#1c1c1c" stroke-width="1.1" />
<text x="296.2" y="357.79" font-size="10.2" font-weight="normal" text-anchor="end" fill="#111"  class="r">40</text>
<line x1="297.8" y1="327.44" x2="301" y2="327.44" stroke="#1c1c1c" stroke-width="1.1" />
<text x="296.2" y="330.94" font-size="10.2" font-weight="normal" text-anchor="end" fill="#111"  class="r">60</text>
<line x1="297.8" y1="300.58" x2="301" y2="300.58" stroke="#1c1c1c" stroke-width="1.1" />
<text x="296.2" y="304.08" font-size="10.2" font-weight="normal" text-anchor="end" fill="#111"  class="r">80</text>
<line x1="297.8" y1="273.73" x2="301" y2="273.73" stroke="#1c1c1c" stroke-width="1.1" />
<text x="296.2" y="277.23" font-size="10.2" font-weight="normal" text-anchor="end" fill="#111"  class="r">100</text>
<line x1="299.2" y1="394.57" x2="301" y2="394.57" stroke="#1c1c1c" stroke-width="1.0" />
<line x1="299.2" y1="367.72" x2="301" y2="367.72" stroke="#1c1c1c" stroke-width="1.0" />
<line x1="299.2" y1="340.86" x2="301" y2="340.86" stroke="#1c1c1c" stroke-width="1.0" />
<line x1="299.2" y1="314.01" x2="301" y2="314.01" stroke="#1c1c1c" stroke-width="1.0" />
<line x1="299.2" y1="287.15" x2="301" y2="287.15" stroke="#1c1c1c" stroke-width="1.0" />
<line x1="321" y1="408" x2="321" y2="411.2" stroke="#1c1c1c" stroke-width="1.1" />
<text x="319.8" y="423.8" font-size="10.2" font-weight="normal" text-anchor="middle" fill="#111"  class="r">10</text>
<line x1="360.8" y1="408" x2="360.8" y2="411.2" stroke="#1c1c1c" stroke-width="1.1" />
<text x="360.8" y="423.8" font-size="10.2" font-weight="normal" text-anchor="middle" fill="#111"  class="r">20</text>
<line x1="400.6" y1="408" x2="400.6" y2="411.2" stroke="#1c1c1c" stroke-width="1.1" />
<text x="400.6" y="423.8" font-size="10.2" font-weight="normal" text-anchor="middle" fill="#111"  class="r">30</text>
<line x1="440.4" y1="408" x2="440.4" y2="411.2" stroke="#1c1c1c" stroke-width="1.1" />
<text x="440.4" y="423.8" font-size="10.2" font-weight="normal" text-anchor="middle" fill="#111"  class="r">40</text>
<line x1="480.2" y1="408" x2="480.2" y2="411.2" stroke="#1c1c1c" stroke-width="1.1" />
<text x="480.2" y="423.8" font-size="10.2" font-weight="normal" text-anchor="middle" fill="#111"  class="r">50</text>
<line x1="340.9" y1="408" x2="340.9" y2="409.8" stroke="#1c1c1c" stroke-width="1.0" />
<line x1="380.7" y1="408" x2="380.7" y2="409.8" stroke="#1c1c1c" stroke-width="1.0" />
<line x1="420.5" y1="408" x2="420.5" y2="409.8" stroke="#1c1c1c" stroke-width="1.0" />
<line x1="460.3" y1="408" x2="460.3" y2="409.8" stroke="#1c1c1c" stroke-width="1.0" />
<text transform="translate(394.8 253.8) scale(1.03 1)" font-size="11.3" font-weight="bold" text-anchor="middle" fill="#000"  class="b">MCF-7/ADR</text>
<text transform="translate(269 249.3) scale(0.96 1)" font-size="17.5" font-weight="bold" text-anchor="start" fill="#000" class="L">D</text>
<text x="410.2" y="437.3" font-size="10.3" font-weight="bold" text-anchor="middle" fill="#000"  class="b">Concentration of drug (nmol/mL)</text>
<text x="277.7" y="343.6" font-size="10.3" font-weight="bold" text-anchor="middle" fill="#000" transform="rotate(-90 277.7 343.6)" class="b">Cell viability (%)</text>
<line x1="406.3" y1="278.7" x2="422.7" y2="278.7" stroke="#050505" stroke-width="1.4" />
<circle cx="414.5" cy="278.7" r="1.95" fill="#050505"/>
<text x="424.2" y="281.8" font-size="8.85" font-weight="normal" text-anchor="start" fill="#111"  class="r">2DG-SUC-ADM</text>
<line x1="406.3" y1="289.8" x2="422.7" y2="289.8" stroke="#686868" stroke-width="1.4" />
<path d="M414.5 287.73 L416.57 289.8 L414.5 291.87 L412.43 289.8Z" fill="#686868"/>
<text x="424.2" y="292.9" font-size="8.85" font-weight="normal" text-anchor="start" fill="#111"  class="r">ADM</text>
<rect x="0" y="0" width="520" height="1" fill="#4c4c4c"/>
<rect x="0" y="1" width="518" height="1" fill="#b4b4b4"/>
<rect x="0" y="0" width="1" height="458" fill="#4a4a4a"/>
<rect x="1" y="1" width="1" height="455" fill="#b4b4b4"/>
<rect x="518" y="0" width="1" height="458" fill="#a0a0a0"/>
<rect x="519" y="0" width="1" height="458" fill="#6a6a6a"/>
<rect x="0" y="456" width="519" height="1" fill="#a5a5a5"/>
<rect x="0" y="457" width="520" height="1" fill="#666666"/>
</svg>
</body></html>
